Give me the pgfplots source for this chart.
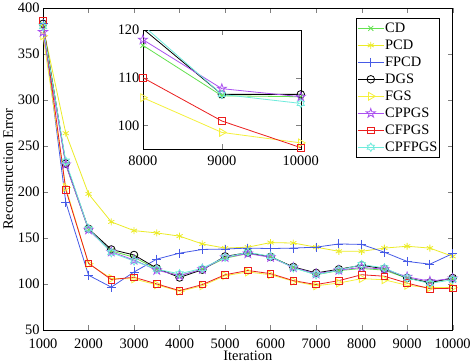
\documentclass[border=0pt]{standalone}
\usepackage{fontspec}
\setmainfont{Liberation Serif}
\usepackage{pgfplots}
\pgfplotsset{compat=1.18}
\usepackage{pgfplotstable}

\definecolor{cCD}{RGB}{100,225,80}
\definecolor{cPCD}{RGB}{235,235,40}
\definecolor{cFPCD}{RGB}{70,90,230}
\definecolor{cFGS}{RGB}{245,240,60}
\definecolor{cCPPGS}{RGB}{170,80,240}
\definecolor{cCFPGS}{RGB}{235,30,30}
\definecolor{cCPFPGS}{RGB}{110,235,220}

\pgfdeclareplotmark{pentagram}{%
  \pgfpathmoveto{\pgfpointpolar{90}{1.2\pgfplotmarksize}}%
  \pgfpathlineto{\pgfpointpolar{126}{0.46\pgfplotmarksize}}%
  \pgfpathlineto{\pgfpointpolar{162}{1.2\pgfplotmarksize}}%
  \pgfpathlineto{\pgfpointpolar{198}{0.46\pgfplotmarksize}}%
  \pgfpathlineto{\pgfpointpolar{234}{1.2\pgfplotmarksize}}%
  \pgfpathlineto{\pgfpointpolar{270}{0.46\pgfplotmarksize}}%
  \pgfpathlineto{\pgfpointpolar{306}{1.2\pgfplotmarksize}}%
  \pgfpathlineto{\pgfpointpolar{342}{0.46\pgfplotmarksize}}%
  \pgfpathlineto{\pgfpointpolar{18}{1.2\pgfplotmarksize}}%
  \pgfpathlineto{\pgfpointpolar{54}{0.46\pgfplotmarksize}}%
  \pgfpathclose\pgfusepathqstroke}
\pgfdeclareplotmark{hexagram}{%
  \pgfpathmoveto{\pgfpointpolar{90}{1.1\pgfplotmarksize}}%
  \pgfpathlineto{\pgfpointpolar{120}{0.64\pgfplotmarksize}}%
  \pgfpathlineto{\pgfpointpolar{150}{1.1\pgfplotmarksize}}%
  \pgfpathlineto{\pgfpointpolar{180}{0.64\pgfplotmarksize}}%
  \pgfpathlineto{\pgfpointpolar{210}{1.1\pgfplotmarksize}}%
  \pgfpathlineto{\pgfpointpolar{240}{0.64\pgfplotmarksize}}%
  \pgfpathlineto{\pgfpointpolar{270}{1.1\pgfplotmarksize}}%
  \pgfpathlineto{\pgfpointpolar{300}{0.64\pgfplotmarksize}}%
  \pgfpathlineto{\pgfpointpolar{330}{1.1\pgfplotmarksize}}%
  \pgfpathlineto{\pgfpointpolar{0}{0.64\pgfplotmarksize}}%
  \pgfpathlineto{\pgfpointpolar{30}{1.1\pgfplotmarksize}}%
  \pgfpathlineto{\pgfpointpolar{60}{0.64\pgfplotmarksize}}%
  \pgfpathclose\pgfusepathqstroke}

\pgfplotstableread{
x CD PCD FPCD DGS FGS CPPGS CFPGS CPFPGS
1000 382 380 383 383 370 374 386 380
1500 230 264 189 231 205 230 202.5 233.5
2000 159 198 109.5 160 122 159 122.5 160
2500 136 167.5 96.5 137.5 106 135 104.7 134
3000 129 158 113 131.5 105.5 126 107.3 125
3500 116 155.5 127 117 99 115 100 116
4000 109 152 133.5 107 92 109 92.7 111
4500 116 143.5 137.5 115.5 98 116 99.3 117
5000 128 139 138 130 109 129 110 129
5500 133 140 139 134 113 133 114.6 134.5
6000 130 145 138.5 129.5 110 129 111.2 130
6500 118 144.5 139 118.5 103 118 103.6 117.5
7000 110 140 140 112 98 111 99.3 110
7500 114.5 135.5 143.5 116 101 115 103.6 115
8000 116.8 135.5 143 120.3 105.8 118 110 121
8500 115 139 134.5 116.5 104.5 116 108.4 117.5
9000 106.2 141 124.5 106.5 98.5 107.7 100.9 106.5
9500 101.5 139 121.5 101.5 96 103 94.8 100.5
10000 106 130 133 106.5 96.3 106 95.3 104.6
}\datatable

\pgfplotstableread{
x CD PCD FPCD DGS FGS CPPGS CFPGS CPFPGS
8000 116.8 135.5 143 120.3 105.8 118 110 121
9000 106.2 141 124.5 106.5 98.5 107.7 100.9 106.5
10000 106 130 133 106.5 96.3 106 95.3 104.6
}\insettable

\pgfplotsset{
  every axis/.append style={font=\fontsize{14.5}{16}\selectfont},
  mystyle/.style={
    scale only axis,
    tick align=inside,
    major tick length=5bp,
    /pgf/number format/1000 sep={},
    /pgf/number format/assume math mode=true,
    scaled ticks=false,
    tick label style={font=\fontsize{14.5}{16}\selectfont},
    xticklabel style={yshift=-5bp},
    every axis plot/.append style={line width=0.8bp},
  },
  sCD/.style={color=cCD, mark=x, mark size=3.5bp},
  sPCD/.style={color=cPCD, mark=asterisk, mark size=3.5bp},
  sFPCD/.style={color=cFPCD, mark=+, mark size=4.5bp},
  sDGS/.style={color=black, mark=o, mark size=3.8bp},
  sFGS/.style={color=cFGS, mark=triangle, mark size=4.5bp, mark options={rotate=-90}},
  sCPPGS/.style={color=cCPPGS, mark=pentagram, mark size=4bp},
  sCFPGS/.style={color=cCFPGS, mark=square, mark size=3.3bp},
  sCPFPGS/.style={color=cCPFPGS, mark=hexagram, mark size=3.8bp},
}

\begin{document}
\begin{tikzpicture}
\begin{axis}[
  mystyle,
  width=410bp, height=322bp,
  xmin=1000, xmax=10000, ymin=50, ymax=400,
  xtick={1000,2000,...,10000},
  ytick={50,100,...,400},
  xlabel={Iteration},
  ylabel={Reconstruction Error},
  label style={font=\fontsize{14.5}{16}\selectfont},
  xlabel style={yshift=4bp},
  ylabel style={yshift=-2bp},
  legend style={at={(0.968,0.969)}, anchor=north east, draw=black, fill=white,
    font=\fontsize{14.5}{16}\selectfont,
    nodes={inner sep=1bp, text height=11bp, text depth=3bp},
    row sep=1bp, inner xsep=1bp, inner ysep=2bp,
    /tikz/every even column/.append style={column sep=0bp}},
  legend cell align=left,
  legend image code/.code={\draw[mark repeat=2, mark phase=2, #1] plot coordinates {(0bp,0bp)(13bp,0bp)(26bp,0bp)};},
]
\addplot[sCD] table[x=x,y=CD] {\datatable};
\addplot[sPCD] table[x=x,y=PCD] {\datatable};
\addplot[sFPCD] table[x=x,y=FPCD] {\datatable};
\addplot[sDGS] table[x=x,y=DGS] {\datatable};
\addplot[sFGS] table[x=x,y=FGS] {\datatable};
\addplot[sCPPGS] table[x=x,y=CPPGS] {\datatable};
\addplot[sCFPGS] table[x=x,y=CFPGS] {\datatable};
\addplot[sCPFPGS] table[x=x,y=CPFPGS] {\datatable};
\legend{CD,PCD,FPCD,DGS,FGS,CPPGS,CFPGS,CPFPGS}
\end{axis}
\begin{axis}[
  mystyle,
  at={(100bp,181bp)}, anchor=south west,
  width=158bp, height=119bp,
  xmin=8000, xmax=10000, ymin=95, ymax=120,
  xtick={8000,9000,10000},
  ytick={100,110,120},
  xticklabel style={yshift=2bp},
  axis background/.style={fill=white},
  clip=true,
]
\addplot[sCD] table[x=x,y=CD] {\insettable};
\addplot[sPCD] table[x=x,y=PCD] {\insettable};
\addplot[sFPCD] table[x=x,y=FPCD] {\insettable};
\addplot[sDGS] table[x=x,y=DGS] {\insettable};
\addplot[sFGS] table[x=x,y=FGS] {\insettable};
\addplot[sCPPGS] table[x=x,y=CPPGS] {\insettable};
\addplot[sCFPGS] table[x=x,y=CFPGS] {\insettable};
\addplot[sCPFPGS] table[x=x,y=CPFPGS] {\insettable};
\end{axis}
\end{tikzpicture}
\end{document}
